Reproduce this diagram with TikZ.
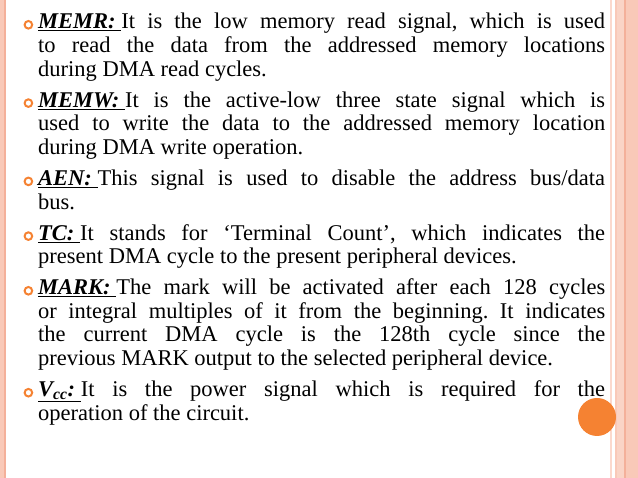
\documentclass[tikz,border=0pt]{standalone}
\usepackage{fontspec}
\setmainfont{Liberation Serif}
\definecolor{borderpink}{HTML}{F9C9B8}
\definecolor{linepink}{HTML}{F4B09A}
\definecolor{orng}{HTML}{F58232}
\newcommand{\bul}{\noindent\llap{\tikz[baseline=-4pt]\draw[orng,line width=2pt] (0,0) circle (3.8pt);\hspace{5pt}}}
\newcommand{\lab}[1]{\underline{\textbf{\textit{#1}}\ }}
\begin{document}
\begin{tikzpicture}[x=1pt,y=1pt,
  body/.style={anchor=north west,inner sep=0pt,text width=567pt,align=justify,font=\fontsize{22.5}{23.6}\selectfont\frenchspacing}]
\useasboundingbox (0,0) rectangle (638,478);
\fill[borderpink] (0,0) rectangle (4,478);
\fill[linepink] (4,0) rectangle (5.5,478);
\fill[borderpink!70] (610,0) rectangle (612,478);
\fill[borderpink] (615,0) rectangle (617,478);
\fill[borderpink!80] (617,0) rectangle (624,478);
\fill[linepink] (624,0) rectangle (626,478);
\fill[borderpink] (626,0) rectangle (638,478);
\fill[orng] (597,61) circle (19);
\node[body] (t) at (38,465) {%
\bul\lab{MEMR:}It is the low memory read signal, which is used\linebreak to read the data from the addressed memory locations\linebreak during DMA read cycles.\par\vspace{7.5pt}
\bul\lab{MEMW:}It is the active-low three state signal which is\linebreak used to write the data to the addressed memory location\linebreak during DMA write operation.\par\vspace{7.5pt}
\bul\lab{AEN:}This signal is used to disable the address bus/data\linebreak bus.\par\vspace{7.5pt}
\bul\lab{TC:}It stands for ‘Terminal Count’, which indicates the\linebreak present DMA cycle to the present peripheral devices.\par\vspace{7.5pt}
\bul\lab{MARK:}The mark will be activated after each 128 cycles\linebreak or integral multiples of it from the beginning. It indicates\linebreak the current DMA cycle is the 128th cycle since the\linebreak previous MARK output to the selected peripheral device.\par\vspace{7.5pt}
\bul\underline{\textbf{\textit{V\textsubscript{cc}:}}\ }It is the power signal which is required for the\linebreak operation of the circuit.};
\end{tikzpicture}
\end{document}
